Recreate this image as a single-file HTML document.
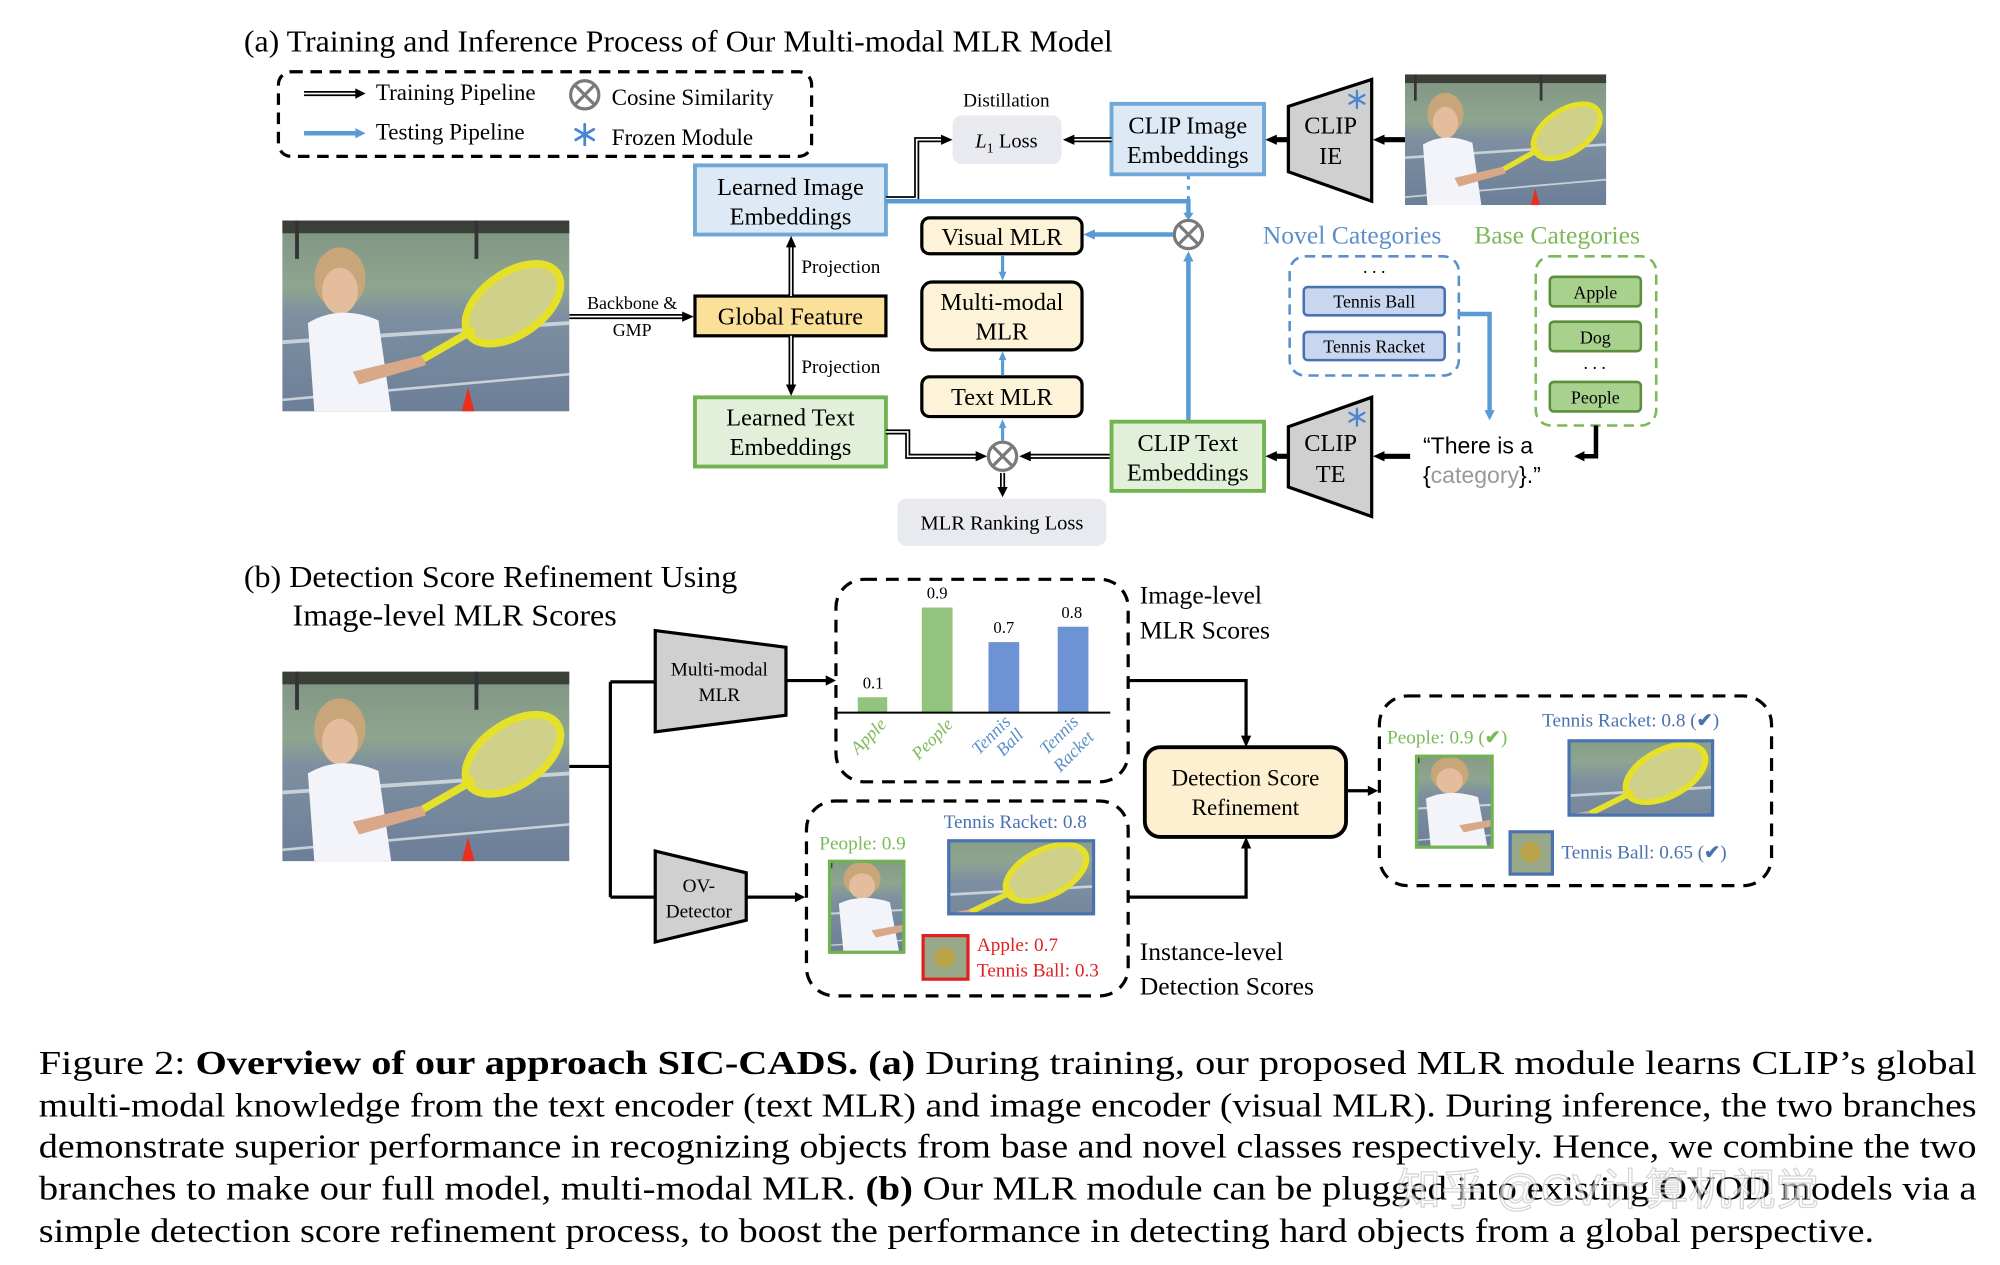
<!DOCTYPE html>
<html><head><meta charset="utf-8"><style>
html,body{margin:0;padding:0;background:#fff;}
svg{display:block;}
text{font-family:"Liberation Serif","Times New Roman",Times,serif;}
</style></head><body>
<svg width="2000" height="1265" viewBox="0 0 1560 987" xmlns="http://www.w3.org/2000/svg">
<defs>
<linearGradient id="bg" x1="0" y1="0" x2="0" y2="1">
<stop offset="0" stop-color="#7f9482"/><stop offset="0.35" stop-color="#8ea58f"/><stop offset="0.5" stop-color="#7d8fa0"/><stop offset="1" stop-color="#6c7f98"/></linearGradient>
<symbol id="photo" viewBox="0 0 224 149" preserveAspectRatio="none">
<rect width="224" height="149" fill="url(#bg)"/>
<rect width="224" height="10" fill="#3a4038"/>
<rect x="10" y="0" width="3" height="30" fill="#333"/><rect x="150" y="0" width="3" height="30" fill="#333"/>
<path d="M0 95 L224 80" stroke="#c8d0d8" stroke-width="3"/>
<path d="M0 140 L224 120" stroke="#c8d0d8" stroke-width="2"/>
<ellipse cx="45" cy="45" rx="20" ry="24" fill="#c9a67a"/>
<ellipse cx="45" cy="55" rx="14" ry="18" fill="#e3bd9c"/>
<path d="M20 80 Q45 65 75 78 L85 149 L25 149 Z" fill="#f2f4fa"/>
<path d="M55 118 L110 105 L112 113 L60 128 Z" fill="#d8a888"/>
<ellipse cx="180" cy="65" rx="42" ry="24" transform="rotate(-35 180 65)" fill="#cfd08a" stroke="#e5e02a" stroke-width="6"/>
<path d="M110 108 L150 85" stroke="#e5e02a" stroke-width="6"/>
<path d="M140 149 L145 130 L150 149 Z" fill="#e8301c"/>
</symbol>
<symbol id="snow" viewBox="-10 -10 20 20">
<g stroke="#4a86d0" stroke-width="2.4" stroke-linecap="round"><path d="M0 -9V9M-7.8 -4.5L7.8 4.5M-7.8 4.5L7.8 -4.5"/></g>
</symbol>
<symbol id="cx" viewBox="-13 -13 26 26">
<circle r="11" fill="#fff" stroke="#7a7a7a" stroke-width="2.5"/><path d="M-7.8 -7.8L7.8 7.8M-7.8 7.8L7.8 -7.8" stroke="#7a7a7a" stroke-width="2.5"/>
</symbol>
</defs>

<text x="190" y="40" font-size="24" textLength="678" lengthAdjust="spacingAndGlyphs">(a) Training and Inference Process of Our Multi-modal MLR Model</text>
<rect x="217" y="56" width="416" height="66" rx="10" fill="none" stroke="#000" stroke-width="2.5" stroke-dasharray="9 6"/>
<path d="M237 73H279" stroke="#000" stroke-width="4"/><path d="M237 73H279" stroke="#fff" stroke-width="1.3"/><path d="M277 69L285 73L277 77Z"/>
<text x="293" y="78" font-size="18">Training Pipeline</text>
<path d="M237 104H279" stroke="#5b9bd5" stroke-width="3.5"/><path d="M277 100L285 104L277 108Z" fill="#5b9bd5"/>
<text x="293" y="109" font-size="18">Testing Pipeline</text>
<use href="#cx" x="443" y="61" width="26" height="26"/>
<text x="477" y="82" font-size="18">Cosine Similarity</text>
<use href="#snow" x="447" y="96" width="18" height="18"/>
<text x="477" y="113" font-size="18">Frozen Module</text>

<use href="#photo" x="220" y="172" width="224" height="149"/>
<text x="493" y="241" font-size="14" text-anchor="middle">Backbone &amp;</text>
<text x="493" y="262" font-size="14" text-anchor="middle">GMP</text>
<path d="M444 247H534" stroke="#000" stroke-width="4"/><path d="M444 247H534" stroke="#fff" stroke-width="1.3"/><path d="M532 243L541 247L532 251Z"/>

<rect x="542" y="231" width="149" height="31" fill="#fbe09a" stroke="#000" stroke-width="2.5"/>
<text x="616.5" y="253" font-size="19" text-anchor="middle">Global Feature</text>
<rect x="542" y="129" width="149" height="54" fill="#dde9f5" stroke="#6fa7d8" stroke-width="3"/>
<text x="616.5" y="152" font-size="19" text-anchor="middle">Learned Image</text>
<text x="616.5" y="175" font-size="19" text-anchor="middle">Embeddings</text>
<rect x="542" y="310" width="149" height="54" fill="#e2f0d9" stroke="#70b350" stroke-width="3"/>
<text x="616.5" y="332" font-size="19" text-anchor="middle">Learned Text</text>
<text x="616.5" y="355" font-size="19" text-anchor="middle">Embeddings</text>
<path d="M617 231V192" stroke="#000" stroke-width="4"/><path d="M617 231V192" stroke="#fff" stroke-width="1.3"/><path d="M613 193L617 184L621 193Z"/>
<path d="M617 262V301" stroke="#000" stroke-width="4"/><path d="M617 262V301" stroke="#fff" stroke-width="1.3"/><path d="M613 300L617 309L621 300Z"/>
<text x="625" y="213" font-size="15">Projection</text>
<text x="625" y="291" font-size="15">Projection</text>

<text x="785" y="83" font-size="15" text-anchor="middle">Distillation</text>
<rect x="743" y="90" width="85" height="38" rx="7" fill="#e8eaf0"/>
<text x="785" y="115" font-size="16" text-anchor="middle"><tspan font-style="italic">L</tspan><tspan font-size="11" dy="4">1</tspan><tspan dy="-4"> Loss</tspan></text>
<path d="M691 155H715V109H736" fill="none" stroke="#000" stroke-width="4"/><path d="M691 155H715V109H736" fill="none" stroke="#fff" stroke-width="1.3"/><path d="M734 105L743 109L734 113Z"/>
<path d="M691 157H927V168" fill="none" stroke="#5b9bd5" stroke-width="3.5"/><path d="M923 166L927 172L931 166Z" fill="#5b9bd5"/>
<path d="M927 137V170" stroke="#5b9bd5" stroke-width="2.5" stroke-dasharray="3 5"/>

<rect x="867" y="81" width="119" height="55" fill="#dde9f5" stroke="#6fa7d8" stroke-width="3"/>
<text x="926.5" y="104" font-size="19" text-anchor="middle">CLIP Image</text>
<text x="926.5" y="127" font-size="19" text-anchor="middle">Embeddings</text>
<path d="M867 109H836" stroke="#000" stroke-width="4"/><path d="M867 109H836" stroke="#fff" stroke-width="1.3"/><path d="M838 105L829 109L838 113Z"/>
<path d="M1005 83L1070 62V157L1005 134Z" fill="#d0d0d0" stroke="#000" stroke-width="2.5"/>
<text x="1038" y="104" font-size="19" text-anchor="middle">CLIP</text>
<text x="1038" y="128" font-size="19" text-anchor="middle">IE</text>
<use href="#snow" x="1051" y="70" width="15" height="15"/>
<path d="M1005 109H994" stroke="#000" stroke-width="4"/><path d="M996 105L987 109L996 113Z"/>
<path d="M1096 109H1079" stroke="#000" stroke-width="4"/><path d="M1080 105L1071 109L1080 113Z"/>
<use href="#photo" x="1096" y="58" width="157" height="102"/>

<rect x="719" y="170" width="125" height="28" rx="6" fill="#fdf3d8" stroke="#000" stroke-width="2.5"/>
<text x="781.5" y="191" font-size="19" text-anchor="middle">Visual MLR</text>
<rect x="719" y="220" width="125" height="53" rx="8" fill="#fdf3d8" stroke="#000" stroke-width="2.5"/>
<text x="781.5" y="242" font-size="19" text-anchor="middle">Multi-modal</text>
<text x="781.5" y="265" font-size="19" text-anchor="middle">MLR</text>
<rect x="719" y="294" width="125" height="31" rx="6" fill="#fdf3d8" stroke="#000" stroke-width="2.5"/>
<text x="781.5" y="316" font-size="19" text-anchor="middle">Text MLR</text>
<path d="M782 199V213" stroke="#5b9bd5" stroke-width="2.5"/><path d="M779 212L782 219L785 212Z" fill="#5b9bd5"/>
<path d="M782 293V281" stroke="#5b9bd5" stroke-width="2.5"/><path d="M779 281L782 274L785 281Z" fill="#5b9bd5"/>
<use href="#cx" x="914" y="170" width="26" height="26"/>
<path d="M915 183H853" stroke="#5b9bd5" stroke-width="3.5"/><path d="M854 179L845 183L854 187Z" fill="#5b9bd5"/>
<path d="M927 329V203" stroke="#5b9bd5" stroke-width="3.5"/><path d="M923 204L927 196L931 204Z" fill="#5b9bd5"/>

<use href="#cx" x="769" y="343" width="26" height="26"/>
<path d="M782 344V334" stroke="#5b9bd5" stroke-width="2.5"/><path d="M779 334L782 327L785 334Z" fill="#5b9bd5"/>
<path d="M782 369V381" stroke="#000" stroke-width="4"/><path d="M782 369V381" stroke="#fff" stroke-width="1.3"/><path d="M778 380L782 388L786 380Z"/>
<rect x="700" y="389" width="163" height="37" rx="7" fill="#e8eaf0"/>
<text x="781.5" y="413" font-size="16" text-anchor="middle">MLR Ranking Loss</text>
<path d="M691 337H708V356H762" fill="none" stroke="#000" stroke-width="4"/><path d="M691 337H708V356H762" fill="none" stroke="#fff" stroke-width="1.3"/><path d="M761 352L770 356L761 360Z"/>
<path d="M867 356H803" stroke="#000" stroke-width="4"/><path d="M867 356H803" stroke="#fff" stroke-width="1.3"/><path d="M804 352L795 356L804 360Z"/>

<rect x="867" y="329" width="119" height="54" fill="#e2f0d9" stroke="#70b350" stroke-width="3"/>
<text x="926.5" y="352" font-size="19" text-anchor="middle">CLIP Text</text>
<text x="926.5" y="375" font-size="19" text-anchor="middle">Embeddings</text>
<path d="M1005 333L1070 310V403L1005 380Z" fill="#d0d0d0" stroke="#000" stroke-width="2.5"/>
<text x="1038" y="352" font-size="19" text-anchor="middle">CLIP</text>
<text x="1038" y="376" font-size="19" text-anchor="middle">TE</text>
<use href="#snow" x="1051" y="318" width="15" height="15"/>
<path d="M1005 356H994" stroke="#000" stroke-width="4"/><path d="M996 352L987 356L996 360Z"/>
<path d="M1100 356H1079" stroke="#000" stroke-width="4"/><path d="M1080 352L1071 356L1080 360Z"/>
<text x="1110" y="354" font-size="18" style="font-family:'Liberation Sans',sans-serif">“There is a</text>
<text x="1110" y="377" font-size="18" style="font-family:'Liberation Sans',sans-serif">{<tspan fill="#999">category</tspan>}.”</text>

<text x="985" y="190" font-size="20" fill="#5b8fc9">Novel Categories</text>
<text x="1150" y="190" font-size="20" fill="#7cb95a">Base Categories</text>
<rect x="1006" y="200" width="132" height="93" rx="12" fill="none" stroke="#5b8fc9" stroke-width="2" stroke-dasharray="8 5"/>
<text x="1072" y="213" font-size="14" text-anchor="middle">. . .</text>
<rect x="1017" y="224" width="110" height="22" rx="3" fill="#c9d6f0" stroke="#4a72b0" stroke-width="2"/>
<text x="1072" y="240" font-size="14" text-anchor="middle">Tennis Ball</text>
<rect x="1017" y="259" width="110" height="22" rx="3" fill="#c9d6f0" stroke="#4a72b0" stroke-width="2"/>
<text x="1072" y="275" font-size="14" text-anchor="middle">Tennis Racket</text>
<path d="M1138 245H1162V321" fill="none" stroke="#5b9bd5" stroke-width="3.5"/><path d="M1158 320L1162 328L1166 320Z" fill="#5b9bd5"/>
<rect x="1198" y="200" width="94" height="132" rx="12" fill="none" stroke="#7cb95a" stroke-width="2" stroke-dasharray="8 5"/>
<rect x="1209" y="216" width="71" height="23" rx="3" fill="#a9d18e" stroke="#5c8f3c" stroke-width="2"/>
<text x="1244.5" y="233" font-size="14" text-anchor="middle">Apple</text>
<rect x="1209" y="251" width="71" height="23" rx="3" fill="#a9d18e" stroke="#5c8f3c" stroke-width="2"/>
<text x="1244.5" y="268" font-size="14" text-anchor="middle">Dog</text>
<text x="1244" y="288" font-size="14" text-anchor="middle">. . .</text>
<rect x="1209" y="298" width="71" height="23" rx="3" fill="#a9d18e" stroke="#5c8f3c" stroke-width="2"/>
<text x="1244.5" y="315" font-size="14" text-anchor="middle">People</text>
<path d="M1245 332V356H1235" fill="none" stroke="#000" stroke-width="3.5"/><path d="M1236 352L1228 356L1236 360Z"/>

<text x="190" y="458" font-size="24" textLength="385" lengthAdjust="spacingAndGlyphs">(b) Detection Score Refinement Using</text>
<text x="228" y="488" font-size="24" textLength="253" lengthAdjust="spacingAndGlyphs">Image-level MLR Scores</text>
<use href="#photo" x="220" y="524" width="224" height="148"/>
<path d="M444 598H476M476 532V700M476 532H511M476 700H511" fill="none" stroke="#000" stroke-width="2.5"/>
<path d="M511 492L613 505V558L511 571Z" fill="#d0d0d0" stroke="#000" stroke-width="2.5"/>
<text x="561" y="527" font-size="15" text-anchor="middle">Multi-modal</text>
<text x="561" y="547" font-size="15" text-anchor="middle">MLR</text>
<path d="M613 531H645" stroke="#000" stroke-width="2.5"/><path d="M644 527L652 531L644 535Z"/>
<path d="M511 664L582 681V718L511 735Z" fill="#d0d0d0" stroke="#000" stroke-width="2.5"/>
<text x="545" y="696" font-size="15" text-anchor="middle">OV-</text>
<text x="545" y="716" font-size="15" text-anchor="middle">Detector</text>
<path d="M582 700H621" stroke="#000" stroke-width="2.5"/><path d="M620 696L628 700L620 704Z"/>

<rect x="652" y="452" width="228" height="158" rx="22" fill="none" stroke="#000" stroke-width="2.5" stroke-dasharray="10 7"/>
<rect x="669" y="544" width="23" height="12" fill="#93c47d"/>
<rect x="719" y="474" width="24" height="82" fill="#93c47d"/>
<rect x="771" y="501" width="24" height="55" fill="#6d93d4"/>
<rect x="825" y="489" width="24" height="67" fill="#6d93d4"/>
<path d="M652 556H866" stroke="#000" stroke-width="1.5"/>
<g font-size="13" text-anchor="middle"><text x="681" y="537">0.1</text><text x="731" y="467">0.9</text><text x="783" y="494">0.7</text><text x="836" y="482">0.8</text></g>
<g font-size="14" font-style="italic">
<text transform="translate(692 566) rotate(-45)" text-anchor="end" fill="#7cb95a">Apple</text>
<text transform="translate(744 566) rotate(-45)" text-anchor="end" fill="#7cb95a">People</text>
<text transform="translate(789 564) rotate(-45)" text-anchor="end" fill="#5b8fc9">Tennis</text>
<text transform="translate(799 574) rotate(-45)" text-anchor="end" fill="#5b8fc9">Ball</text>
<text transform="translate(842 564) rotate(-45)" text-anchor="end" fill="#5b8fc9">Tennis</text>
<text transform="translate(854 576) rotate(-45)" text-anchor="end" fill="#5b8fc9">Racket</text>
</g>
<text x="889" y="471" font-size="20">Image-level</text>
<text x="889" y="498" font-size="20">MLR Scores</text>
<path d="M880 531H972V575" fill="none" stroke="#000" stroke-width="2.5"/><path d="M968 574L972 583L976 574Z"/>

<rect x="629" y="625" width="251" height="152" rx="22" fill="none" stroke="#000" stroke-width="2.5" stroke-dasharray="10 7"/>
<text x="639" y="663" font-size="15" fill="#7cb95a">People: 0.9</text>
<svg x="647" y="672" width="58" height="71" viewBox="10 20 80 129" preserveAspectRatio="none"><use href="#photo" width="224" height="149"/></svg>
<rect x="647" y="672" width="58" height="71" fill="none" stroke="#70b350" stroke-width="2.5"/>
<text x="736" y="646" font-size="15" fill="#4a72b0">Tennis Racket: 0.8</text>
<svg x="740" y="656" width="113" height="57" viewBox="90 30 134 80" preserveAspectRatio="none"><use href="#photo" width="224" height="149"/></svg>
<rect x="740" y="656" width="113" height="57" fill="none" stroke="#4a72b0" stroke-width="2.5"/>
<rect x="720" y="730" width="35" height="34" fill="#9aa88a" stroke="#e02020" stroke-width="2.5"/>
<circle cx="737" cy="747" r="8" fill="#b9a348"/>
<text x="762" y="742" font-size="15" fill="#e02020">Apple: 0.7</text>
<text x="762" y="762" font-size="15" fill="#e02020">Tennis Ball: 0.3</text>
<text x="889" y="749" font-size="20">Instance-level</text>
<text x="889" y="776" font-size="20">Detection Scores</text>
<path d="M880 700H972V661" fill="none" stroke="#000" stroke-width="2.5"/><path d="M968 662L972 653L976 662Z"/>

<rect x="893" y="583" width="157" height="70" rx="12" fill="#fdf0d0" stroke="#000" stroke-width="3"/>
<text x="971.5" y="613" font-size="18" text-anchor="middle">Detection Score</text>
<text x="971.5" y="636" font-size="18" text-anchor="middle">Refinement</text>
<path d="M1050 617H1068" stroke="#000" stroke-width="2.5"/><path d="M1067 613L1075 617L1067 621Z"/>

<rect x="1076" y="543" width="306" height="148" rx="22" fill="none" stroke="#000" stroke-width="2.5" stroke-dasharray="10 7"/>
<text x="1082" y="580" font-size="15" fill="#7cb95a">People: 0.9 (<tspan font-weight="bold">✔</tspan>)</text>
<svg x="1105" y="590" width="59" height="71" viewBox="10 20 80 129" preserveAspectRatio="none"><use href="#photo" width="224" height="149"/></svg>
<rect x="1105" y="590" width="59" height="71" fill="none" stroke="#70b350" stroke-width="2.5"/>
<text x="1203" y="567" font-size="15" fill="#4a72b0">Tennis Racket: 0.8 (<tspan font-weight="bold">✔</tspan>)</text>
<svg x="1224" y="578" width="112" height="58" viewBox="90 30 134 80" preserveAspectRatio="none"><use href="#photo" width="224" height="149"/></svg>
<rect x="1224" y="578" width="112" height="58" fill="none" stroke="#4a72b0" stroke-width="2.5"/>
<rect x="1178" y="649" width="33" height="33" fill="#9aa88a" stroke="#4a72b0" stroke-width="2.5"/>
<circle cx="1194" cy="665" r="8" fill="#b9a348"/>
<text x="1218" y="670" font-size="15" fill="#4a72b0">Tennis Ball: 0.65 (<tspan font-weight="bold">✔</tspan>)</text>

<g font-size="26.5">
<text x="30" y="838" textLength="1512" lengthAdjust="spacingAndGlyphs">Figure 2: <tspan font-weight="bold">Overview of our approach SIC-CADS.</tspan> <tspan font-weight="bold">(a)</tspan> During training, our proposed MLR module learns CLIP’s global</text>
<text x="30" y="871" textLength="1512" lengthAdjust="spacingAndGlyphs">multi-modal knowledge from the text encoder (text MLR) and image encoder (visual MLR). During inference, the two branches</text>
<text x="30" y="903" textLength="1512" lengthAdjust="spacingAndGlyphs">demonstrate superior performance in recognizing objects from base and novel classes respectively. Hence, we combine the two</text>
<text x="30" y="936" textLength="1512" lengthAdjust="spacingAndGlyphs">branches to make our full model, multi-modal MLR. <tspan font-weight="bold">(b)</tspan> Our MLR module can be plugged into existing OVOD models via a</text>
<text x="30" y="969" textLength="1432" lengthAdjust="spacingAndGlyphs">simple detection score refinement process, to boost the performance in detecting hard objects from a global perspective.</text>
</g>
<text x="1090" y="940" font-size="34" fill="#ffffff" fill-opacity="0.6" stroke="#888" stroke-opacity="0.35" stroke-width="1" style="font-family:'Liberation Sans','Noto Sans CJK SC',sans-serif">知乎 @CV计算机视觉</text>
</svg>
</body></html>
